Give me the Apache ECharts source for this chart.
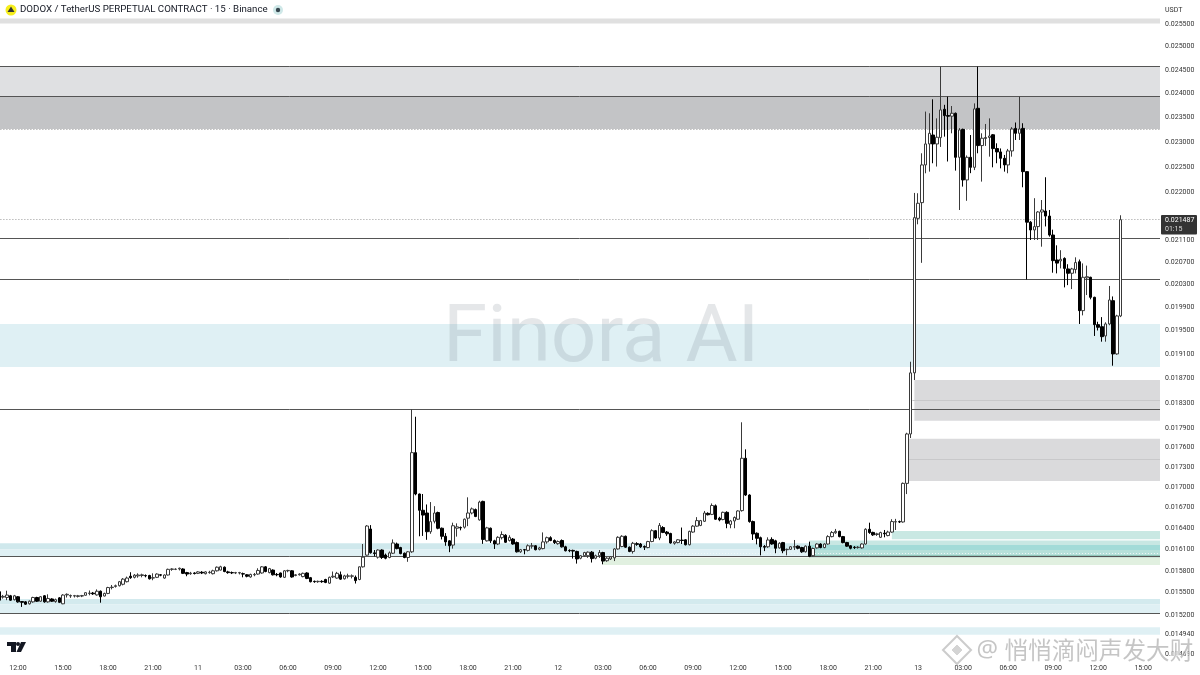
<!DOCTYPE html>
<html><head><meta charset="utf-8">
<style>html,body{margin:0;padding:0;background:#fff}#c{width:1200px;height:675px}</style>
<script src="https://cdn.jsdelivr.net/npm/echarts@6/dist/echarts.min.js"></script>
</head><body><div id="c"></div>
<script>
// Prices in millionths of a USDT, rows are [open, close, low, high]
const day10a = [[15513,15399,15385,15525],[15440,15450,15420,15470],[15435,15468,15399,15527],[15458,15399,15390,15470],[15405,15458,15395,15470],[15445,15376,15365,15455],[15380,15370,15308,15385],[15376,15345,15335,15385],[15350,15385,15340,15395],[15376,15435,15365,15445],[15435,15385,15375,15445],[15385,15445,15378,15455],[15458,15376,15365,15468],[15376,15422,15365,15478],[15415,15385,15375,15425],[15380,15405,15365,15420],[15430,15370,15360,15440],[15350,15468,15345,15480],[15470,15478,15435,15490],[15455,15462,15430,15475],[15455,15460,15435,15470],[15450,15458,15435,15470],[15455,15460,15440,15470],[15465,15500,15460,15505],[15490,15495,15465,15530],[15495,15485,15470,15510],[15470,15520,15460,15545],[15520,15445,15365,15530],[15455,15490,15450,15500],[15490,15570,15480,15580],[15570,15575,15545,15605],[15585,15595,15570,15610],[15595,15650,15585,15660],[15615,15685,15600,15700],[15650,15700,15640,15720],[15725,15705,15690,15780],[15710,15740,15695,15755],[15730,15742,15705,15765],[15735,15745,15710,15760],[15735,15730,15710,15750],[15735,15690,15680,15745],[15700,15705,15670,15765],[15710,15755,15700,15765],[15745,15740,15725,15755],[15700,15742,15690,15750],[15742,15820,15735,15830],[15820,15825,15800,15835],[15820,15822,15810,15835],[15825,15835,15805,15845],[15825,15765,15755,15835]];
const day11a = [[15775,15755,15725,15785],[15760,15768,15745,15785],[15770,15762,15750,15780],[15765,15785,15755,15795],[15780,15770,15755,15795],[15760,15785,15750,15795],[15775,15780,15760,15800],[15760,15800,15750,15815],[15800,15850,15790,15860],[15810,15856,15805,15870],[15850,15790,15780,15860],[15785,15775,15760,15800],[15775,15772,15755,15790],[15770,15775,15755,15785],[15770,15775,15750,15785],[15760,15755,15710,15775],[15745,15725,15710,15755],[15715,15750,15705,15760],[15745,15750,15725,15770],[15755,15805,15745,15835],[15770,15855,15760,15865],[15855,15790,15780,15865],[15775,15830,15765,15840],[15810,15745,15735,15820],[15750,15745,15725,15770],[15770,15715,15705,15775],[15710,15800,15700,15810],[15800,15805,15780,15815],[15800,15715,15705,15810],[15735,15745,15725,15755],[15745,15755,15735,15765],[15720,15765,15710,15775],[15770,15695,15685,15780],[15705,15650,15640,15715],[15655,15650,15635,15665],[15650,15655,15635,15665],[15655,15650,15635,15670],[15680,15640,15630,15690],[15630,15710,15620,15720],[15715,15725,15700,15790],[15700,15765,15690,15785],[15745,15685,15675,15790],[15690,15730,15680,15745],[15725,15730,15695,15760],[15725,15730,15695,15750],[15710,15665,15625,15735],[15680,15855,15670,15860],[15855,15990,15845,16175]];
const spikeA = [[16018,16432,16010,16445],[16389,16052,16040,16445],[16050,16040,16000,16090],[15990,16090,15970,16100],[16090,15985,15965,16100],[16020,15975,15960,16040],[15985,16050,15975,16070],[16045,16190,16035,16240],[16175,16110,16100,16195],[16125,16040,16030,16135],[16045,15985,15975,16055],[15985,16065,15925,16075],[16065,17522,16050,18197],[17522,16899,16880,18082],[16899,16660,16285,16905],[16660,16590,16290,16899],[16620,16350,16235,16745],[16350,16495,16320,16780],[16500,16620,16470,16720],[16627,16400,16385,16640],[16400,16285,16240,16410],[16285,16205,16150,16330],[16220,16150,16060,16230],[16160,16436,16110,16480],[16400,16420,16280,16470],[16410,16405,16370,16425],[16415,16530,16395,16540],[16545,16620,16430,16850],[16620,16680,16600,16700],[16670,16570,16560,16685],[16520,16780,16510,16800],[16790,16240,16177,16800],[16220,16405,16210,16420],[16400,16220,16190,16410],[16220,16175,16105,16235],[16175,16270,16160,16285],[16265,16310,16240,16355],[16300,16200,16190,16315],[16225,16270,16210,16300],[16245,16175,16165,16260],[16195,16065,16055,16210],[16065,16095,16050,16105],[16095,16090,16030,16105],[16085,16150,16070,16170],[16145,16150,16110,16190],[16150,16095,16085,16160],[16100,16120,16085,16135],[16110,16205,16100,16340],[16205,16265,16180,16280]];
const day12a = [[16265,16225,16215,16285],[16225,16195,16175,16240],[16180,16210,16165,16225],[16225,16135,16125,16240],[16135,16080,16070,16150],[16085,16080,16060,16100],[16085,16075,15970,16095],[16070,15965,15900,16080],[15975,16010,15960,16020],[16010,16055,15995,16065],[16010,16060,15980,16070],[16060,15970,15915,16075],[15975,16010,15960,16025],[16010,16055,15980,16090],[16055,15935,15890,16065],[15940,15975,15925,15990],[15965,15995,15950,16005],[15980,16105,15935,16115],[16105,16270,16095,16285],[16140,16285,16130,16300],[16285,16130,16120,16295],[16130,16070,16060,16140],[16070,16185,16040,16205],[16180,16170,16150,16200],[16175,16135,16120,16190],[16140,16130,16090,16155],[16125,16210,16115,16220],[16210,16365,16200,16385],[16365,16260,16250,16375],[16260,16440,16230,16475],[16410,16340,16330,16430],[16345,16320,16290,16360],[16325,16190,16180,16335],[16185,16205,16165,16215],[16195,16235,16185,16245],[16230,16225,16175,16410],[16235,16165,16155,16245],[16165,16355,16155,16365],[16345,16430,16335,16445],[16430,16510,16420,16560],[16440,16510,16430,16520],[16500,16620,16490,16650],[16615,16595,16585,16630],[16600,16730,16590,16760],[16725,16530,16520,16745],[16545,16520,16500,16565]];
const day12b = [[16525,16630,16515,16640],[16630,16470,16400,16645],[16455,16505,16400,16520],[16505,16555,16400,16570],[16530,16650,16520,16660],[16655,17436,16640,17994],[17436,16884,16870,17573],[16884,16496,16480,16895],[16496,16318,16232,16510],[16328,16256,16170,16340],[16265,16136,16015,16280],[16140,16130,16075,16160],[16136,16232,16120,16270],[16240,16175,16165,16270],[16220,16115,16045,16235],[16120,16185,16110,16200],[16195,16080,16045,16205],[16095,16100,16015,16110],[16100,16136,16090,16145],[16130,16140,16090,16232],[16145,16115,16100,16155],[16125,16065,16050,16135],[16065,16145,16055,16155],[16145,16002,15990,16208],[16010,16112,16000,16125],[16120,16175,16110,16185],[16175,16125,16115,16185],[16125,16175,16115,16185],[16175,16280,16165,16300],[16280,16338,16270,16360],[16335,16355,16320,16390],[16355,16280,16270,16365],[16280,16195,16185,16290],[16195,16145,16135,16205],[16150,16115,16100,16160],[16130,16125,16105,16145],[16125,16130,16110,16145],[16120,16175,16110,16185],[16175,16385,16165,16400],[16385,16338,16320,16480],[16340,16305,16290,16350],[16310,16320,16290,16335],[16270,16338,16260,16350],[16330,16320,16270,16375],[16295,16345,16285,16365],[16345,16496,16335,16530],[16490,16495,16375,16535],[16495,16490,16475,16510]];
const pumpA = [[16490,17057,16480,17070],[17057,17811,16898,17830],[17811,18790,17748,18974],[18790,21525,18673,21996],[21512,21798,21400,21990],[21810,22542,20690,22773],[22542,22960,22378,23620],[22960,23175,22410,23585],[23140,22960,22575,23875],[22960,23095,22510,23480],[23087,23654,22900,24568],[23668,23537,23107,23760],[23537,23525,22610,23930],[23525,23585,23175,23735],[23585,22693,22430,23600],[22693,23243,21670,23280],[23255,22248,22118,23270],[22248,22693,21845,22730],[22693,22495,22380,23140],[22495,23675,22440,23790],[23688,22927,22773,24568],[22927,23075,22215,23175],[23070,23090,22920,23365],[23090,23120,22706,23480],[23145,22867,22495,23160],[22867,22800,22575,22973],[22800,22673,22475,22870],[22673,22542,22410,22740],[22542,22820,22378,22860],[22820,23263,22706,23300],[23275,23175,23040,23395],[23175,23263,23040,23930]];
const dropA = [[23275,22410,22105,23380],[22410,21440,20391,22415],[21440,21294,21108,21460],[21294,21357,21108,21895],[21357,21632,21108,21650],[21632,21670,20985,21860],[21650,21555,21360,22300],[21555,21200,21170,21670],[21200,20730,20512,21300],[20742,20685,20500,21010],[20725,20755,20590,20920],[20770,20590,20250,20790],[20580,20502,20290,20665],[20502,20580,20220,20600],[20570,20695,20500,20790],[20710,19842,19612,20750],[19842,20430,19760,20680],[20420,20440,20115,20640],[20430,20075,20040,20440],[20075,19600,19407,20085],[19600,19555,19500,19650],[19565,19395,19310,19730],[19407,19612,19310,19640],[19612,20028,19590,20275],[20016,19104,18908,20090],[19104,19750,19090,19770],[19750,21487,19730,21570]];

const priceTicks = [25500,25000,24500,24000,23500,23000,22500,22000,21100,20700,20300,19900,19500,19100,18700,18300,17900,17600,17300,17000,16700,16400,16100,15800,15500,15200,14940,14690];
const solidLevels = [24583,23945,21146,20391,18197,15999,15220];
const dottedLevels = [23264,21487];
const lastLabel = '0.021487', countdown = '01:15';

const U = 1e-6;
const candles = [].concat(day10a, day11a, spikeA, day12a, day12b, pumpA, dropA).map(r => r.map(v => v * U));

const categories = [];
for (let i = 0, m = 10 * 60 + 45, d = 10; i < 310; i++, m += 15) {
  if (m >= 1440) { m -= 1440; d++; }
  const hh = String(Math.floor(m / 60)).padStart(2, '0'), mm = String(m % 60).padStart(2, '0');
  categories.push(m === 0 ? String(d) : hh + ':' + mm);
}

const BLUE = '#dff0f4', BLUE2 = '#cfe8ec', GR1 = '#dfe0e2', GR2 = '#c3c4c6', GR3 = '#dadadc';
const zones = [
  [25626,25515,'#e0e0e0'],
  [24583,23945,GR1],
  [23945,23264,GR2],
  [19611,18886,BLUE],
  [18673,18020,GR3,244],
  [17737,17092,GR3,242],
  [16185,16097,BLUE2],
  [16097,16006,BLUE],
  [15985,15880,'#e1f0e0',161],
  [16224,16161,'#c8e7e3',216],
  [16161,16090,'#a3dbd8',216],
  [16090,16006,'#b6e0da',216],
  [16360,16241,'#c9e8e3',238],
  [15414,15340,'#d3eaee'],
  [15340,15227,BLUE],
  [15037,14940,BLUE]
];
const zoneInner = [[18337,0.787],[17425,0.781]];

const areaData = zones.map(z => {
  const a = { yAxis: z[0] * U, itemStyle: { color: z[2] } };
  if (z[3] !== undefined) a.xAxis = z[3];
  return [a, { yAxis: z[1] * U }];
});
areaData.push([{ xAxis: 216, yAxis: 16012 * U, itemStyle: { color: '#6da897' } }, { yAxis: 15990 * U }]);

const span = (v, from, style) => [{ xAxis: from, yAxis: v * U, lineStyle: style }, { xAxis: 1, yAxis: v * U }];
const lineData = [];
solidLevels.forEach(v => lineData.push(span(v, 0, { color: '#555', width: 1, type: 'solid' })));
dottedLevels.forEach(v => lineData.push(span(v, 0, { color: '#9a9a9a', width: 1, type: [1, 2] })));
zoneInner.forEach(z => lineData.push(span(z[0], z[1], { color: '#c8c8ca', width: 1, type: 'solid' })));
lineData.push(span(16048, 0.52, { color: '#eef8f6', width: 1, type: [1, 2] }));

const FONT = 'Roboto, "Liberation Sans", sans-serif';
const chart = echarts.init(document.getElementById('c'), null, { renderer: 'canvas' });
chart.setOption({
  animation: false,
  backgroundColor: '#fff',
  grid: { left: -2.6, top: 0, width: 1162.6, height: 660, containLabel: false, outerBoundsMode: 'none' },
  xAxis: [{
    type: 'category', data: categories, boundaryGap: true,
    axisLine: { show: false }, axisTick: { show: false }, splitLine: { show: false },
    axisLabel: {
      interval: i => (i - 5) % 12 === 0, color: '#333', fontSize: 7, fontFamily: FONT, margin: 5,
      hideOverlap: false
    }
  }, { type: 'value', show: false, min: 0, max: 1, position: 'top' }],
  yAxis: {
    type: 'log', logBase: 10, position: 'right', min: 0.014613, max: 0.026044, scale: true,
    axisLine: { show: false }, axisTick: { show: false }, splitLine: { show: false }, minorTick: { show: false }, minorSplitLine: { show: false },
    axisLabel: {
      customValues: priceTicks.map(v => v * U),
      formatter: v => Number(v).toFixed(6), color: '#333', fontSize: 7, fontFamily: FONT, margin: 5, align: 'left', padding: [3, 0, 0, 0]
    }
  },
  series: [
    { type: 'line', data: [], z: 1, silent: true, markArea: { silent: true, z: 1, data: areaData } },
    {
      type: 'line', xAxisIndex: 1, data: [], z: 2, silent: true,
      markLine: { silent: true, z: 2, symbol: 'none', label: { show: false }, animation: false, data: lineData }
    },
    {
      type: 'candlestick', z: 5, data: candles, barWidth: 3, large: false, progressive: 0,
      itemStyle: { color: '#ffffff', color0: '#000000', borderColor: '#3a3a3a', borderColor0: '#000000', borderWidth: 1 }
    }
  ],
  graphic: [
    { type: 'text', z: 3, left: 443, top: 301, silent: true, style: { text: 'Finora AI', font: '400 80px Roboto, sans-serif', fill: 'rgba(110,120,135,0.18)' } },
    { type: 'rect', shape: { x: 0, y: 0, width: 1200, height: 18 }, style: { fill: '#fff' }, z: 6 },
    { type: 'circle', shape: { cx: 11, cy: 10, r: 5.5 }, style: { fill: '#f6ee1c' }, z: 7 },
    { type: 'polygon', shape: { points: [[11, 6.5], [14.5, 12], [7.5, 12]] }, style: { fill: '#333' }, z: 8 },
    { type: 'text', z: 7, left: 20, top: 5, style: { text: 'DODOX / TetherUS PERPETUAL CONTRACT \u00b7 15 \u00b7 Binance', font: '9.7px ' + FONT, fill: '#131722' } },
    { type: 'circle', shape: { cx: 278, cy: 10, r: 5 }, style: { fill: '#cfe8e8' }, z: 7 },
    { type: 'circle', shape: { cx: 278, cy: 10, r: 2.2 }, style: { fill: '#37474f' }, z: 8 },
    { type: 'text', z: 7, left: 1165, top: 7, style: { text: 'USDT', font: '7px ' + FONT, fill: '#333' } },
    { type: 'rect', shape: { x: 1161, y: 215, width: 36, height: 19.5, r: 1 }, style: { fill: '#333' }, z: 7 },
    { type: 'text', z: 8, left: 1165, top: 216.5, style: { text: lastLabel, font: '7px ' + FONT, fill: '#fff' } },
    { type: 'text', z: 8, left: 1165, top: 225.5, style: { text: countdown, font: '7px ' + FONT, fill: '#ddd' } },
    { type: 'polygon', z: 7, shape: { points: [[7, 642], [16, 642], [16, 652], [11, 652], [11, 646], [7, 646]] }, style: { fill: '#131722' } },
    { type: 'circle', z: 7, shape: { cx: 18, cy: 644, r: 2 }, style: { fill: '#131722' } },
    { type: 'polygon', z: 7, shape: { points: [[21, 642], [26, 642], [21, 652], [16.5, 652]] }, style: { fill: '#131722' } },
    { type: 'polygon', z: 9, shape: { points: [[957, 636], [971, 650], [957, 664], [943, 650]] }, style: { fill: 'none', stroke: 'rgba(170,170,170,0.6)', lineWidth: 2 } },
    { type: 'polygon', z: 9, shape: { points: [[957, 644], [963, 650], [957, 656], [951, 650]] }, style: { fill: 'rgba(170,170,170,0.5)', stroke: '#fff', lineWidth: 1 } },
    { type: 'text', z: 9, left: 976, top: 638, style: { text: '@', font: '24px "Noto Sans", sans-serif', fill: 'rgba(150,150,150,0.55)', stroke: 'rgba(255,255,255,0.8)', lineWidth: 1 } },
    { type: 'text', z: 9, left: 1004, top: 638, style: { text: '\u6084\u6084\u6ef4\u95f7\u58f0\u53d1\u5927\u8d22', font: '23.6px "Noto Sans CJK SC", sans-serif', fill: 'rgba(150,150,150,0.55)', stroke: 'rgba(255,255,255,0.8)', lineWidth: 1 } }
  ]
});
</script></body></html>
